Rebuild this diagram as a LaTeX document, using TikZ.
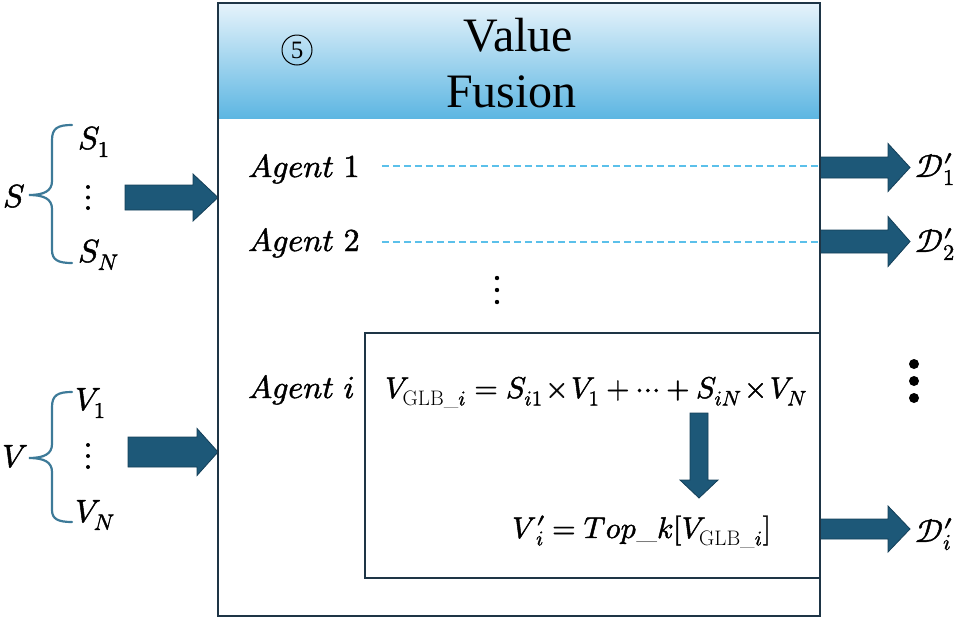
\RequirePackage{fix-cm}
\documentclass[tikz,border=0pt]{standalone}
\usepackage{fontspec}
\usepackage{unicode-math}
\setmathfont{Latin Modern Math}[FakeBold=1.5]
\newfontfamily\timesfont{Liberation Serif}
\usetikzlibrary{calc}
\definecolor{boxline}{HTML}{1E3546}
\definecolor{arrowfill}{HTML}{1D5878}
\definecolor{arrowedge}{HTML}{143F58}
\definecolor{dashblue}{HTML}{5BC0EA}
\definecolor{bracecol}{HTML}{3D7A98}
\definecolor{headtop}{HTML}{E6F3FB}
\definecolor{headmid}{HTML}{A8D7F0}
\definecolor{headbot}{HTML}{5DB6E2}
\newcommand\primed[2]{{#1}\rlap{$\prime$}_{#2}}
\newcommand\tms{\mkern1.5mu{\times}\mkern1.5mu}
\tikzset{
  mt/.style={font=\fontsize{32}{38}\selectfont, inner sep=0pt, text=black},
  hdr/.style={font=\timesfont\fontsize{48}{56}\selectfont, inner sep=0pt},
  blk/.style={fill=arrowfill, draw=arrowedge, line width=0.8pt, line join=miter},
  dashcon/.style={draw=dashblue, line width=2pt, dash pattern=on 7pt off 4pt},
  bracesty/.style={draw=bracecol, line width=2.2pt, line cap=round},
  frame/.style={draw=boxline, line width=2pt, inner sep=0pt, outer sep=0pt},
  dotsm/.style={fill=black},
}
\newcommand\hblockarrow[6]{%
  \path[blk] ({#1},{#2-#4}) -- ({#6},{#2-#4}) -- ({#6},{#2-#5}) -- ({#3},{#2})
    -- ({#6},{#2+#5}) -- ({#6},{#2+#4}) -- ({#1},{#2+#4}) -- cycle;}
\begin{document}
\begin{tikzpicture}[x=1pt,y=-1pt]
\useasboundingbox (0,0) rectangle (958,619);
% header band
\shade[top color=headtop, middle color=headmid, bottom color=headbot] (218,3) rectangle (820,118);
% block arrows
\hblockarrow{125}{197.5}{218}{12.5}{23.5}{193}
\hblockarrow{128}{452}{218}{15}{23.5}{197}
\hblockarrow{820}{167.5}{910}{10.5}{24}{888}
\hblockarrow{820}{241.5}{910}{11.5}{25}{888}
\hblockarrow{820}{529}{910}{10}{23}{888}
\path[blk] (690,413) -- (690,480) -- (680,480) -- (699,498) -- (718,480) -- (708,480) -- (708,413) -- cycle;
% frames
\node[frame, minimum width=602pt, minimum height=613pt, anchor=north west] (main) at (218,2.5) {};
\node[frame, minimum width=455pt, minimum height=245pt, anchor=north west] (fb) at (365,333) {};
% header text
\node[circle, draw=black, line width=1pt, minimum size=30pt, inner sep=0pt,
      font=\timesfont\fontsize{25}{25}\selectfont] (num) at (297,50) {5};
\node[hdr, anchor=base] (t1) at (518.5,51) {Value};
\node[hdr, anchor=base] (t2) at (511.5,107) {Fusion};
% agents
\node[mt, anchor=base west] (a1) at (248,177) {$Agent\ 1$};
\node[mt, anchor=base west] (a2) at (248,251) {$Agent\ 2$};
\node[mt, anchor=base west] (ai) at (248,398) {$Agent\ i$};
\coordinate (e1) at (820,166);
\coordinate (e2) at (820,242);
\draw[dashcon] (a1.east |- e1) ++(22,0) -- (e1);
\draw[dashcon] (a2.east |- e2) ++(22,0) -- (e2);
\foreach \yy in {278,290,302} \fill[dotsm] (497,\yy) circle (2.2);
% formulas
\node[mt, font=\fontsize{30}{36}\selectfont, anchor=base west] (f1) at (385,398)
  {$V_{\mathrm{GLB\_}i} = S_{i1}\tms V_1 + \cdots + S_{iN}\tms V_N$};
\node[mt, font=\fontsize{30}{36}\selectfont, anchor=base west] (f2) at (512,538)
  {$\primed{V}{i} = Top\_k[V_{\mathrm{GLB\_}i}]$};
% outputs
\node[mt, anchor=base west] (d1) at (915,177) {$\primed{\mathcal{D}}{1}$};
\node[mt, anchor=base west] (d2) at (915,252) {$\primed{\mathcal{D}}{2}$};
\node[mt, anchor=base west] (di) at (915,542) {$\primed{\mathcal{D}}{i}$};
\foreach \yy in {364,381,398} \fill[dotsm] (914,\yy) circle (5);
% left inputs
\node[mt, anchor=base west] (S) at (3,207) {$S$};
\node[mt, anchor=base west] (S1) at (78,149) {$S_1$};
\node[mt, anchor=base west] (SN) at (78,262) {$S_N$};
\foreach \yy in {187,197.5,208} \fill[dotsm] (88,\yy) circle (2);
\draw[bracesty] (72,125) .. controls (58,125) and (52,128) .. (52,140) -- (52,181)
  .. controls (52,191) and (44,195) .. (29,195) .. controls (44,195) and (52,199) .. (52,209)
  -- (52,250) .. controls (52,260) and (58,263) .. (72,263);
\node[mt, anchor=base west] (V) at (2,467) {$V$};
\node[mt, anchor=base west] (V1) at (75,410) {$V_1$};
\node[mt, anchor=base west] (VN) at (75,522) {$V_N$};
\foreach \yy in {445,456,467} \fill[dotsm] (88,\yy) circle (2);
\draw[bracesty] (72,392) .. controls (58,392) and (52,395) .. (52,407) -- (52,444)
  .. controls (52,454) and (44,458) .. (29,458) .. controls (44,458) and (52,462) .. (52,472)
  -- (52,510) .. controls (52,519) and (58,522) .. (72,522);
\end{tikzpicture}
\end{document}
